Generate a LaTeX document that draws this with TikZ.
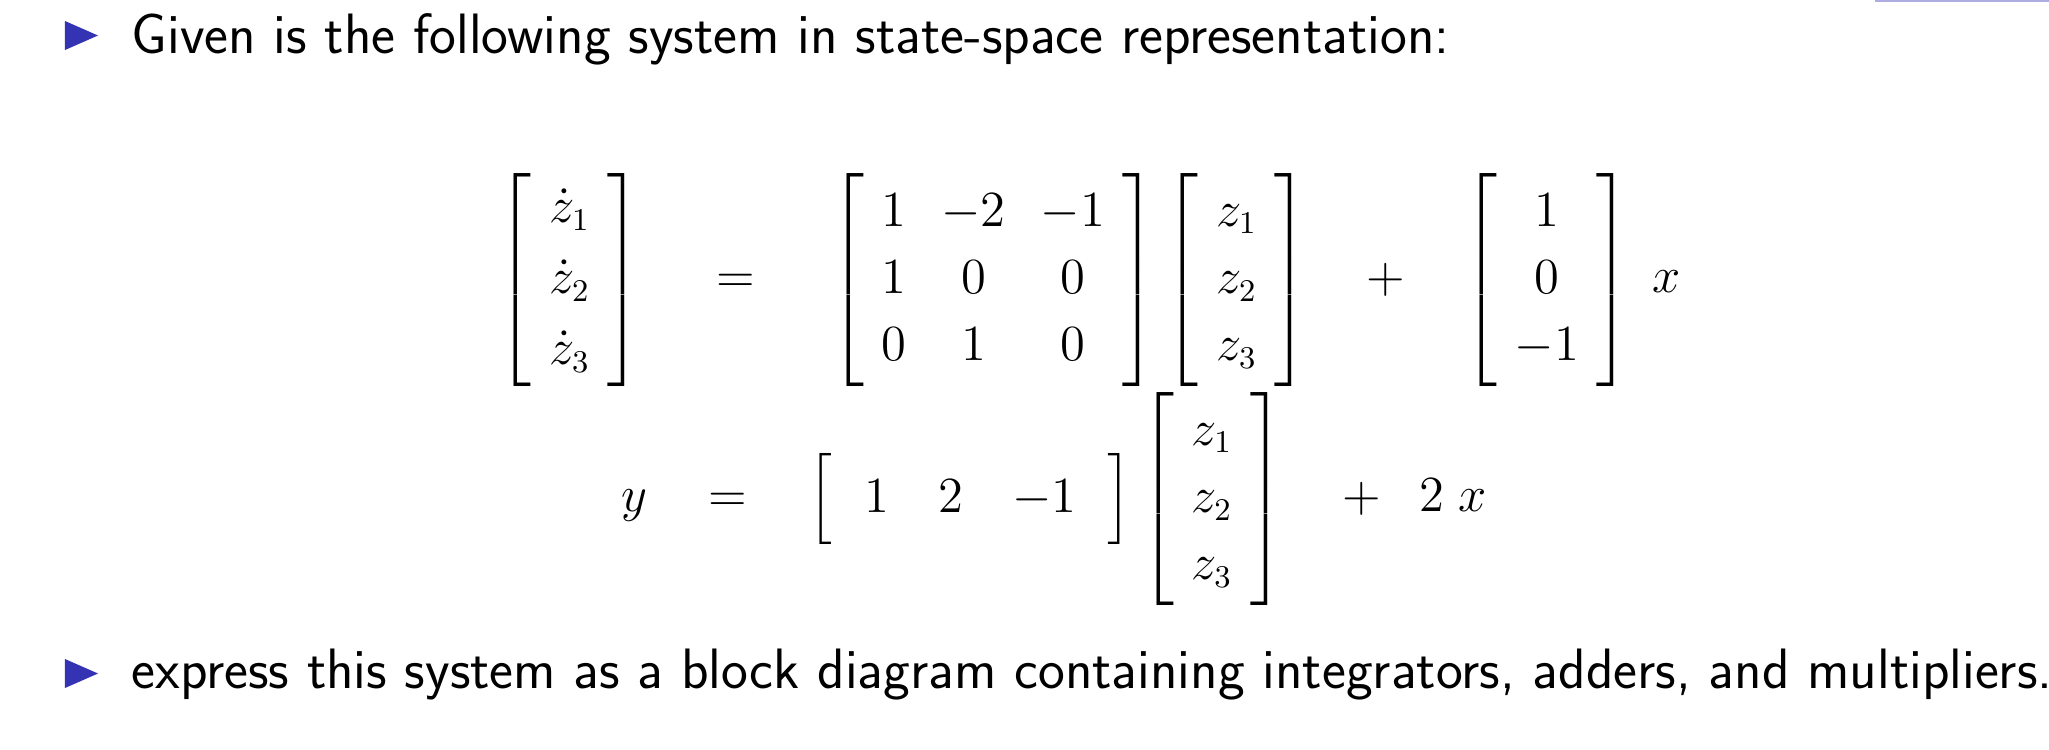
\documentclass[tikz,border=0pt]{standalone}
\usepackage{amsmath}
\definecolor{bul}{RGB}{51,51,179}
\tikzset{item/.style={anchor=base west,inner sep=0pt,font=\sffamily\fontsize{16.2}{19}\selectfont},
 bullet/.style={fill=bul,draw=none},
 eq/.style={inner sep=0pt,font=\fontsize{13.4}{16}\selectfont}}
\begin{document}
\begin{tikzpicture}[x=1cm,y=1cm]
\useasboundingbox (0,0) rectangle (20.49,7.49);
\draw[bul!40,line width=0.6pt] (18.75,7.48) -- (20.49,7.48);
\fill[bullet] (0.65,7.28) -- (0.65,6.99) -- (0.98,7.135) -- cycle;
\node[item] (t1) at (1.31,6.96) {Given is the following system in state-space representation:};
\fill[bullet] (0.65,0.90) -- (0.65,0.61) -- (0.98,0.755) -- cycle;
\node[item] (t2) at (1.31,0.61) {express this system as a block diagram containing integrators, adders, and multipliers.};
\node[eq,anchor=west] (e1) at (4.97,4.69) {\renewcommand{\arraystretch}{1.2}$\left[\begin{array}{c}\dot z_1\\[1pt]\dot z_2\\[1pt]\dot z_3\end{array}\right]\quad\;=\quad\;
\left[\begin{array}{ccc}1&-2&-1\\1&0&0\\0&1&0\end{array}\right]
\left[\begin{array}{c}z_1\\z_2\\z_3\end{array}\right]\quad+\quad
\left[\begin{array}{c}1\\0\\-1\end{array}\right]\;x$};
\node[eq,anchor=west] (e2) at (6.21,2.50) {\renewcommand{\arraystretch}{1.2}$y\quad=\quad\left[\;\begin{array}{ccc}1&\;2&\;-1\end{array}\;\right]
\left[\begin{array}{c}z_1\\z_2\\z_3\end{array}\right]\quad+\;\;2\;x$};
\end{tikzpicture}
\end{document}
